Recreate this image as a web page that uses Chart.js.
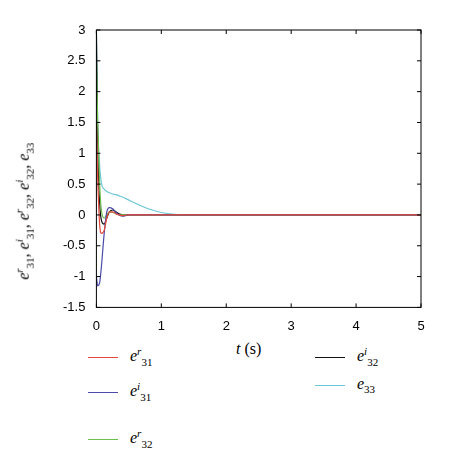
<!DOCTYPE html>
<html><head>
<script src="https://cdn.jsdelivr.net/npm/chart.js@4"></script>
<style>
body{margin:0;background:#fff;font-family:"Liberation Serif",serif;}
#wrap{position:relative;width:474px;height:474px;}
#c{position:absolute;left:0;top:0;}
.ylab{position:absolute;left:-76px;top:200px;width:200px;text-align:center;transform:rotate(-90deg);font-size:16px;font-weight:normal;}
.xlab{position:absolute;left:236px;top:340px;font-size:16px;}
.lg{position:absolute;font-size:16px;}
.lg span.l{display:inline-block;width:30px;height:1.5px;vertical-align:middle;margin-right:12px;}
sub,sup{font-size:11px;font-style:normal;}
</style></head><body>
<div id="wrap">
<canvas id="c" width="474" height="340"></canvas>
<div class="ylab"><i>e</i><sup><i>r</i></sup><sub>31</sub>, <i>e</i><sup><i>i</i></sup><sub>31</sub>, <i>e</i><sup><i>r</i></sup><sub>32</sub>, <i>e</i><sup><i>i</i></sup><sub>32</sub>, <i>e</i><sub>33</sub></div>
<div class="xlab"><i>t</i> (s)</div>
<div id="legend"></div>
</div>
<script>
const t = [0, 0.02, 0.05, 0.08, 0.12, 0.16, 0.2, 0.25, 0.3, 0.35, 0.4, 0.5, 0.6, 0.8, 1.0, 1.2, 1.4, 1.6, 2, 3, 4, 5];
const eR31 = [1.5, 0.6, -0.15, -0.3, -0.25, -0.05, 0.05, 0.05, 0.02, 0, -0.01, 0, 0, 0, 0, 0, 0, 0, 0, 0, 0, 0];
const eI31 = [-1.0, -1.15, -1.1, -0.8, -0.3, 0.05, 0.12, 0.1, 0.04, 0.0, -0.02, 0, 0, 0, 0, 0, 0, 0, 0, 0, 0, 0];
const eR32 = [2.5, 1.5, 0.5, 0.05, -0.05, 0.0, 0.05, 0.04, 0.02, 0, 0, 0, 0, 0, 0, 0, 0, 0, 0, 0, 0, 0];
const eI32 = [3.0, 1.2, 0.2, -0.1, -0.15, -0.05, 0.05, 0.08, 0.05, 0.02, 0, 0, 0, 0, 0, 0, 0, 0, 0, 0, 0, 0];
const e33  = [3.0, 1.5, 0.8, 0.5, 0.42, 0.38, 0.36, 0.34, 0.33, 0.31, 0.29, 0.24, 0.19, 0.1, 0.04, 0.01, 0, 0, 0, 0, 0, 0];
const series = [
  {name:'<i>e</i><sup><i>r</i></sup><sub>31</sub>', data:eR31, color:'#e8473d'},
  {name:'<i>e</i><sup><i>i</i></sup><sub>31</sub>', data:eI31, color:'#4a4aa8'},
  {name:'<i>e</i><sup><i>r</i></sup><sub>32</sub>', data:eR32, color:'#6cc04a'},
  {name:'<i>e</i><sup><i>i</i></sup><sub>32</sub>', data:eI32, color:'#111111'},
  {name:'<i>e</i><sub>33</sub>', data:e33, color:'#6cc7d6'}
];
const yTicks = [-1.5, -1, -0.5, 0, 0.5, 1, 1.5, 2, 2.5, 3];

const boxPlugin = {
  id: 'box',
  afterDraw(chart) {
    const {ctx, chartArea: a, scales} = chart;
    ctx.save();
    ctx.strokeStyle = '#000'; ctx.lineWidth = 1;
    ctx.strokeRect(a.left, a.top, a.right - a.left, a.bottom - a.top);
    for (let v = 0; v <= 5; v++) {
      const x = scales.x.getPixelForValue(v);
      ctx.beginPath(); ctx.moveTo(x, a.bottom); ctx.lineTo(x, a.bottom - 4);
      ctx.moveTo(x, a.top); ctx.lineTo(x, a.top + 4); ctx.stroke();
    }
    yTicks.forEach(v => {
      const y = scales.y.getPixelForValue(v);
      ctx.beginPath(); ctx.moveTo(a.left, y); ctx.lineTo(a.left + 4, y);
      ctx.moveTo(a.right, y); ctx.lineTo(a.right - 4, y); ctx.stroke();
    });
    ctx.restore();
  }
};

new Chart(document.getElementById('c'), {
  type: 'line',
  data: {
    datasets: series.map(s => ({
      data: t.map((x, i) => ({x, y: s.data[i]})),
      borderColor: s.color, borderWidth: 1.2, pointRadius: 0,
      cubicInterpolationMode: 'monotone'
    }))
  },
  options: {
    responsive: false, animation: false,
    layout: {padding: {left: 60, right: 53, top: 30, bottom: 3}},
    plugins: {legend: {display: false}, tooltip: {enabled: false}},
    scales: {
      x: {type: 'linear', min: 0, max: 5, grid: {display: false},
          border: {display: false},
          ticks: {stepSize: 1, color: '#000', font: {family: 'Liberation Sans', size: 13}}},
      y: {min: -1.5, max: 3, grid: {display: false}, border: {display: false},
          afterBuildTicks: ax => { ax.ticks = yTicks.map(v => ({value: v})); },
          ticks: {color: '#000', font: {family: 'Liberation Sans', size: 13},
                  callback: v => String(v)}}
    }
  },
  plugins: [boxPlugin]
});

const pos = [[88, 345], [88, 380], [88, 427], [315, 345], [315, 375]];
const lg = document.getElementById('legend');
series.forEach((s, i) => {
  const d = document.createElement('div');
  d.className = 'lg';
  d.style.left = pos[i][0] + 'px'; d.style.top = pos[i][1] + 'px';
  d.innerHTML = '<span class="l" style="background:' + s.color + '"></span>' + s.name;
  lg.appendChild(d);
});
</script>
</body></html>
